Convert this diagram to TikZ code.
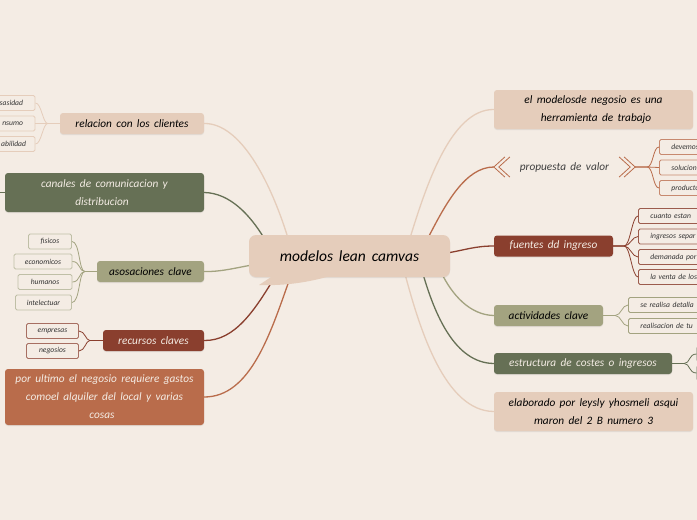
\documentclass[tikz,border=0pt]{standalone}
\usepackage{fontspec}
\setmainfont{Carlito}[WordSpace=1.7]
\usetikzlibrary{positioning,shadows,calc}
\definecolor{paper}{HTML}{F4ECE4}
\definecolor{sand}{HTML}{E5CDBB}
\definecolor{moss}{HTML}{667055}
\definecolor{sage}{HTML}{A3A380}
\definecolor{rust}{HTML}{8A3F2E}
\definecolor{clay}{HTML}{B96C4B}
\tikzset{
  px/.style={x=1pt,y=-1pt},
  topic/.style={shape=rectangle,rounded corners=3pt,minimum height=#1,inner sep=0pt,align=center,
    font=\itshape\fontsize{11.3}{18}\selectfont,drop shadow={shadow xshift=0pt,shadow yshift=-1pt,opacity=0.15}},
  topic/.default=21pt,
  leaf/.style={shape=rectangle,rounded corners=1.5pt,draw=#1,line width=0.9pt,fill=paper,minimum height=15pt,inner sep=0pt,
    font=\itshape\fontsize{7.6}{8}\selectfont,text=black!80},
  link/.style={line width=#1,line cap=round},
  link/.default=1.3pt,
  twig/.style={line width=0.8pt}
}
\begin{document}
\begin{tikzpicture}[px]
\useasboundingbox[fill=paper] (0,0) rectangle (697,520);
% left branches
\node[topic,fill=sand,minimum width=144pt] (clientes) at (132,123.5) {relacion con los clientes};
\node[topic=39pt,fill=moss,text=paper,minimum width=199pt] (canales) at (104.5,192.5) {canales de comunicacion y\\distribucion\hspace*{5pt}};
\node[topic,fill=sage,minimum width=107pt] (asosaciones) at (150.5,271.5) {asosaciones clave};
\node[topic,fill=rust,text=paper,minimum width=101pt] (recursos) at (153.5,340.5) {recursos claves};
\node[topic=56pt,fill=clay,text=paper,minimum width=199pt] (gastos) at (104.5,397) {por ultimo el negosio requiere gastos\\comoel alquiler del local y varias\\cosas\hspace*{5pt}};
% right branches
\node[topic=39pt,fill=sand,minimum width=199pt] (herramienta) at (593.5,109.5) {el modelosde negosio es una\\\hspace*{5pt}herramienta de trabajo};
\node[font=\itshape\fontsize{11.3}{14}\selectfont,text=black!75,minimum width=141pt,minimum height=21pt,inner sep=0pt] (valor) at (564.5,167) {propuesta de valor};
\node[topic,fill=rust,text=paper,minimum width=119pt] (fuentes) at (553.5,246) {fuentes dd ingreso};
\node[topic,fill=sage,minimum width=109pt] (actividades) at (548.5,315.5) {actividades clave};
\node[topic,fill=moss,text=paper,minimum width=178pt] (estructura) at (583,363.5) {estructura de costes o ingresos};
\node[topic=39pt,fill=sand,minimum width=199pt] (elaborado) at (593.5,411.5) {elaborado por leysly yhosmeli asqui\\maron del 2 B numero 3};
% connectors run under the central topic
\coordinate (cna) at (288,238);
\coordinate (cnb) at (264,238);
\coordinate (cnc) at (252,265);
\coordinate (cnd) at (276,275);
\coordinate (cne) at (290,278);
\coordinate (cnf) at (410,238);
\coordinate (cng) at (428,238);
\coordinate (cnh) at (447,253);
\coordinate (cni) at (441,272);
\coordinate (cnj) at (423,274);
\coordinate (cnk) at (405,274);
\draw[link,sand] (clientes.east) .. controls (240,123) and (270,180) .. (cna);
\draw[link,moss] (canales.east) .. controls (230,193) and (250,215) .. (cnb);
\draw[link,sage] (asosaciones.east) .. controls (220,272) and (235,268) .. (cnc);
\draw[link,rust] (recursos.east) .. controls (235,341) and (255,310) .. (cnd);
\draw[link,clay] (gastos.east) .. controls (250,397) and (270,335) .. (cne);
\draw[link,sand] (herramienta.west) .. controls (450,109) and (425,190) .. (cnf);
\draw[link,clay] (valor.west) .. controls (465,167) and (445,205) .. (cng);
\draw[link,rust] (fuentes.west) .. controls (475,246) and (465,250) .. (cnh);
\draw[link,sage] (actividades.west) .. controls (470,315) and (452,295) .. (cni);
\draw[link,moss] (estructura.west) .. controls (455,363) and (435,315) .. (cnj);
\draw[link,sand] (elaborado.west) .. controls (445,411) and (420,330) .. (cnk);
% central topic
\node[shape=rectangle,fill=sand,rounded corners=7pt,minimum width=201pt,minimum height=42pt,inner sep=0pt,
  font=\itshape\fontsize{15.5}{18}\selectfont,drop shadow={shadow xshift=0pt,shadow yshift=-1pt,opacity=0.15}] (centro) at (349.5,256) {modelos lean camvas};
\fill[sand] (274,275) -- (259,285) .. controls (285,286) and (310,282) .. (330,276) -- cycle;
% leaves
\foreach \nm/\x/\y/\w/\pad/\txt in {a1/14/103/42/12/sasidad,a2/14/123.5/42/12/nsumo,a3/14/144/42/9/abilidad}
  \node[leaf=sand,minimum width=\w pt,text width=\w pt,align=right] (\nm) at (\x,\y) {\txt\hspace*{\pad pt}};
\foreach \nm/\x/\y/\w/\txt in {b1/50/241.5/43/fisicos,b2/43/261.5/58/economicos,b3/45/282/54/humanos,b4/43.5/302.5/56/intelectuar}
  \node[leaf=sage!70,minimum width=\w pt] (\nm) at (\x,\y) {\txt};
\foreach \nm/\x/\y/\w/\txt in {c1/52.5/331/52/empresas,c2/52.5/351/52/negosios}
  \node[leaf=rust!75,minimum width=\w pt] (\nm) at (\x,\y) {\txt};
\begin{scope}
\clip (0,0) rectangle (697,520);
\foreach \nm/\x/\y/\txt in {d1/659/147/devemos,d2/659/167.5/solucion,d3/659/188/producto}
  \node[leaf=clay!80,minimum width=80pt,text width=76pt,anchor=west,align=left] (\nm) at (\x,\y) {\hspace*{10pt}\txt};
\foreach \nm/\x/\y/\txt in {e1/638/216/cuanto estan,e2/638/236.5/ingresos separ,e3/638/257/demanada por,e4/638/277/la venta de los}
  \node[leaf=rust!85,minimum width=90pt,text width=86pt,anchor=west,align=left] (\nm) at (\x,\y) {\hspace*{10pt}\txt};
\foreach \nm/\x/\y/\txt in {f1/628/305/se realisa detalla,f2/628/326/realisacion de tu}
  \node[leaf=sage,minimum width=90pt,text width=86pt,anchor=west,align=left] (\nm) at (\x,\y) {\hspace*{10pt}\txt};
\foreach \nm/\y in {g1/354,g2/373}
  \node[leaf=moss,minimum width=40pt,anchor=west] (\nm) at (696.5,\y) {};
\end{scope}
% twigs
\foreach \nm in {a1,a2,a3}
  \draw[twig,sand] (clientes.west) -- ++(-12,0) .. controls +(-5,0) and ($(\nm.east)+(6,0)$) .. (\nm.east);
\foreach \nm in {b1,b2,b3,b4}
  \draw[twig,sage] (asosaciones.west) -- ++(-12,0) .. controls +(-6,0) and ($(\nm.east)+(8,0)$) .. (\nm.east);
\foreach \nm in {c1,c2}
  \draw[twig,rust] (recursos.west) -- ++(-13,0) .. controls +(-4,0) and ($(\nm.east)+(6,0)$) .. (\nm.east);
\foreach \nm in {d1,d2,d3}
  \draw[twig,clay] (valor.east) -- ++(12,0) .. controls +(6,0) and ($(\nm.west)+(-6,0)$) .. (\nm.west);
\foreach \nm in {e1,e2,e3,e4}
  \draw[twig,rust] (fuentes.east) -- ++(11,0) .. controls +(6,0) and ($(\nm.west)+(-6,0)$) .. (\nm.west);
\foreach \nm in {f1,f2}
  \draw[twig,sage] (actividades.east) -- ++(12,0) .. controls +(6,0) and ($(\nm.west)+(-6,0)$) .. (\nm.west);
\foreach \nm in {g1,g2}
  \draw[twig,moss] (estructura.east) -- ++(12,0) .. controls +(6,0) and ($(\nm.west)+(-8,0)$) .. (\nm.west);
\draw[twig,moss] (canales.west) -- (0,192.5);
% chevrons of the borderless topic
\foreach \s in {0,5}{
  \draw[twig,clay] ($(valor.west)+(11+\s,-10)$) -- ($(valor.west)+(\s,0)$) -- ($(valor.west)+(11+\s,10)$);
  \draw[twig,clay] ($(valor.east)+(-11-\s,-10)$) -- ($(valor.east)+(-\s,0)$) -- ($(valor.east)+(-11-\s,10)$);
}
\end{tikzpicture}
\end{document}
